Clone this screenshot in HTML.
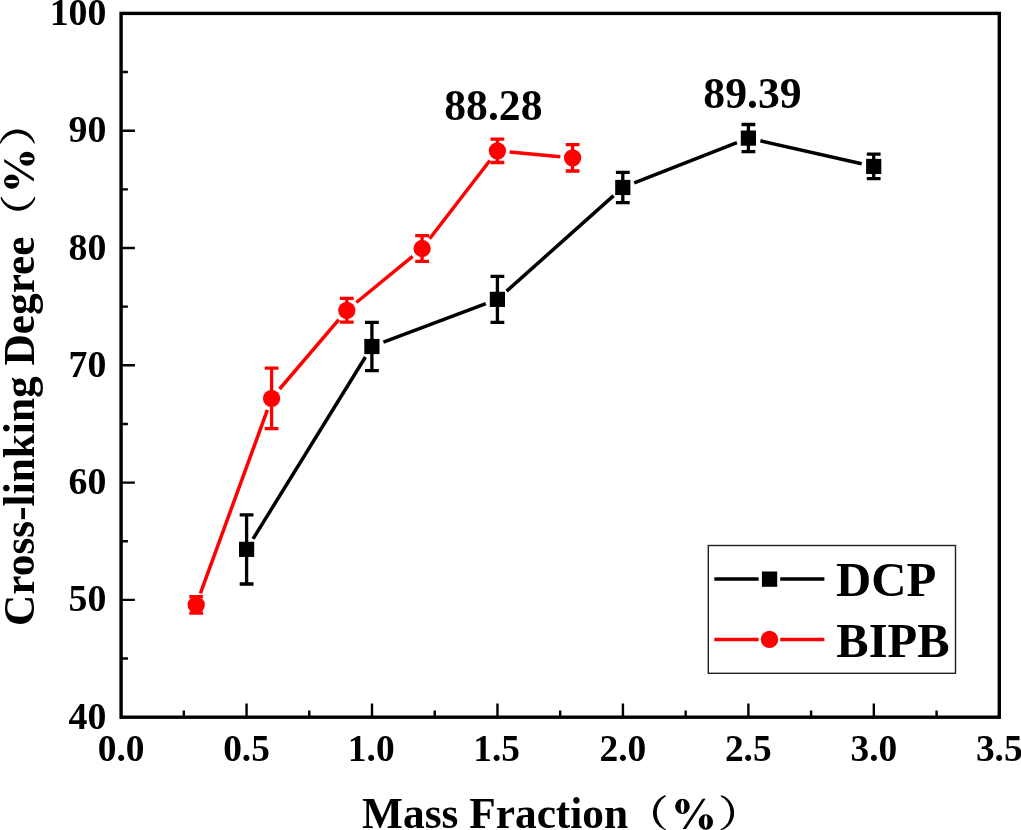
<!DOCTYPE html>
<html><head><meta charset="utf-8"><title>Cross-linking Degree vs Mass Fraction</title>
<style>
html,body{margin:0;padding:0;background:#fff;width:1021px;height:830px;overflow:hidden}
svg{display:block;will-change:transform}
text{font-family:"Liberation Serif",serif;font-weight:bold;fill:#000}
</style></head><body>
<svg width="1021" height="830" viewBox="0 0 1021 830">
<rect x="121.1" y="13.4" width="878.2" height="703.8" fill="none" stroke="#000" stroke-width="3.4"/>
<path d="M121.1 599.9H134.9M121.1 482.6H134.9M121.1 365.3H134.9M121.1 248H134.9M121.1 130.7H134.9M121.1 658.55H127.9M121.1 541.25H127.9M121.1 423.95H127.9M121.1 306.65H127.9M121.1 189.35H127.9M121.1 72.05H127.9M246.56 717.2V703.4M372.01 717.2V703.4M497.47 717.2V703.4M622.93 717.2V703.4M748.39 717.2V703.4M873.84 717.2V703.4M183.83 717.2V710.4M309.29 717.2V710.4M434.74 717.2V710.4M560.2 717.2V710.4M685.66 717.2V710.4M811.11 717.2V710.4M936.57 717.2V710.4" stroke="#000" stroke-width="2.4" fill="none"/>
<text x="68.54" y="728.70" font-size="37.8">40</text>
<text x="68.54" y="611.40" font-size="37.8">50</text>
<text x="68.54" y="494.10" font-size="37.8">60</text>
<text x="68.54" y="376.80" font-size="37.8">70</text>
<text x="68.54" y="259.50" font-size="37.8">80</text>
<text x="68.54" y="142.20" font-size="37.8">90</text>
<text x="49.64" y="24.90" font-size="37.8">100</text>
<text transform="translate(97.71 761.4) scale(0.990 1)" font-size="37.8">0.0</text>
<text transform="translate(223.14 761.4) scale(0.990 1)" font-size="37.8">0.5</text>
<text transform="translate(347.84 761.4) scale(0.990 1)" font-size="37.8">1.0</text>
<text transform="translate(473.27 761.4) scale(0.990 1)" font-size="37.8">1.5</text>
<text transform="translate(599.47 761.4) scale(0.990 1)" font-size="37.8">2.0</text>
<text transform="translate(724.90 761.4) scale(0.990 1)" font-size="37.8">2.5</text>
<text transform="translate(850.46 761.4) scale(0.990 1)" font-size="37.8">3.0</text>
<text transform="translate(975.89 761.4) scale(0.990 1)" font-size="37.8">3.5</text>
<text transform="translate(362.06 828.10) scale(0.9765 1)" font-size="44.4">Mass Fraction</text>
<path transform="translate(653.00 812.70) rotate(0)" d="M12.00 -17.40A18.61 18.61 0 0 0 12.00 17.40L13.30 16.80A19.60 19.60 0 0 1 13.30 -16.80Z"/>
<path fill-rule="evenodd" transform="translate(675.1 798.6)" d="M0.00 7.75A7.35 7.70 0 1 0 14.70 7.75A7.35 7.70 0 1 0 0.00 7.75ZM5.60 7.90A1.80 6.40 0 1 0 9.20 7.90A1.80 6.40 0 1 0 5.60 7.90ZM23.55 23.40A7.20 7.70 0 1 0 37.95 23.40A7.20 7.70 0 1 0 23.55 23.40ZM29.00 23.00A1.70 6.35 0 1 0 32.40 23.00A1.70 6.35 0 1 0 29.00 23.00ZM27.4 0.2L30.5 0.2L10.9 30.3L7.5 30.3Z"/>
<path transform="translate(734.10 812.70) scale(-1 1)" d="M12.60 -17.40A18.31 18.31 0 0 0 12.60 17.40L13.80 16.80A18.94 18.94 0 0 1 13.80 -16.80Z"/>
<text transform="translate(34.00 625.92) rotate(-90) scale(0.9759 1)" font-size="44.4">Cross-linking Degree</text>
<path transform="translate(18.00 210.70) rotate(-90)" d="M12.60 -17.40A18.31 18.31 0 0 0 12.60 17.40L14.20 16.80A18.77 18.77 0 0 1 14.20 -16.80Z"/>
<path fill-rule="evenodd" transform="translate(4.0 188.8) rotate(-90) scale(0.979 0.987)" d="M0.00 7.75A7.35 7.70 0 1 0 14.70 7.75A7.35 7.70 0 1 0 0.00 7.75ZM5.60 7.90A1.80 6.40 0 1 0 9.20 7.90A1.80 6.40 0 1 0 5.60 7.90ZM23.55 23.40A7.20 7.70 0 1 0 37.95 23.40A7.20 7.70 0 1 0 23.55 23.40ZM29.00 23.00A1.70 6.35 0 1 0 32.40 23.00A1.70 6.35 0 1 0 29.00 23.00ZM27.4 0.2L30.5 0.2L10.9 30.3L7.5 30.3Z"/>
<path transform="translate(17.35 129.40) rotate(90)" d="M13.10 -17.40A18.11 18.11 0 0 0 13.10 17.40L14.70 16.80A18.40 18.40 0 0 1 14.70 -16.80Z"/>
<text transform="translate(444.25 119.85) scale(0.9747 1)" font-size="44.8">88.28</text>
<text transform="translate(703.35 108.20) scale(0.9755 1)" font-size="44.8">89.39</text>
<line x1="253.06" y1="538.89" x2="365.44" y2="356.96" stroke="#000" stroke-width="3.5"/>
<line x1="383.41" y1="342.17" x2="485.89" y2="303.68" stroke="#000" stroke-width="3.5"/>
<line x1="506.58" y1="291.16" x2="613.62" y2="195.64" stroke="#000" stroke-width="3.5"/>
<line x1="634.25" y1="182.95" x2="736.95" y2="142.6" stroke="#000" stroke-width="3.5"/>
<line x1="760.4" y1="140.81" x2="861.7" y2="163.74" stroke="#000" stroke-width="3.5"/>
<line x1="200.42" y1="593.35" x2="267.38" y2="409.9" stroke="#f00" stroke-width="3.5"/>
<line x1="279.59" y1="389" x2="338.81" y2="319.65" stroke="#f00" stroke-width="3.5"/>
<line x1="356.31" y1="302.5" x2="412.59" y2="256.3" stroke="#f00" stroke-width="3.5"/>
<line x1="429.61" y1="238.76" x2="489.89" y2="160.54" stroke="#f00" stroke-width="3.5"/>
<line x1="509.65" y1="151.95" x2="560.35" y2="156.7" stroke="#f00" stroke-width="3.5"/>
<path d="M246.6 514.9V584M239.7 514.9H253.5M239.7 584H253.5" stroke="#000" stroke-width="3.3" fill="none"/>
<path d="M371.9 322.4V370.6M365 322.4H378.8M365 370.6H378.8" stroke="#000" stroke-width="3.3" fill="none"/>
<path d="M497.4 276.4V322.3M490.5 276.4H504.3M490.5 322.3H504.3" stroke="#000" stroke-width="3.3" fill="none"/>
<path d="M622.8 172.3V202.6M615.9 172.3H629.7M615.9 202.6H629.7" stroke="#000" stroke-width="3.3" fill="none"/>
<path d="M748.4 124.5V151.7M741.5 124.5H755.3M741.5 151.7H755.3" stroke="#000" stroke-width="3.3" fill="none"/>
<path d="M873.7 154.2V178.7M866.8 154.2H880.6M866.8 178.7H880.6" stroke="#000" stroke-width="3.3" fill="none"/>
<path d="M196.2 596.7V613.1M189.3 596.7H203.1M189.3 613.1H203.1" stroke="#f00" stroke-width="3.3" fill="none"/>
<path d="M271.6 368.1V428.6M264.7 368.1H278.5M264.7 428.6H278.5" stroke="#f00" stroke-width="3.3" fill="none"/>
<path d="M346.8 298.4V322.2M339.9 298.4H353.7M339.9 322.2H353.7" stroke="#f00" stroke-width="3.3" fill="none"/>
<path d="M422.1 235.6V261.4M415.2 235.6H429M415.2 261.4H429" stroke="#f00" stroke-width="3.3" fill="none"/>
<path d="M497.4 139.1V162.5M490.5 139.1H504.3M490.5 162.5H504.3" stroke="#f00" stroke-width="3.3" fill="none"/>
<path d="M572.6 144.7V171M565.7 144.7H579.5M565.7 171H579.5" stroke="#f00" stroke-width="3.3" fill="none"/>
<rect x="239" y="541.75" width="15.2" height="15.2" fill="#000"/>
<rect x="364.3" y="338.9" width="15.2" height="15.2" fill="#000"/>
<rect x="489.8" y="291.75" width="15.2" height="15.2" fill="#000"/>
<rect x="615.2" y="179.85" width="15.2" height="15.2" fill="#000"/>
<rect x="740.8" y="130.5" width="15.2" height="15.2" fill="#000"/>
<rect x="866.1" y="158.85" width="15.2" height="15.2" fill="#000"/>
<circle cx="196.2" cy="604.9" r="8.65" fill="#f00"/>
<circle cx="271.6" cy="398.35" r="8.65" fill="#f00"/>
<circle cx="346.8" cy="310.3" r="8.65" fill="#f00"/>
<circle cx="422.1" cy="248.5" r="8.65" fill="#f00"/>
<circle cx="497.4" cy="150.8" r="8.65" fill="#f00"/>
<circle cx="572.6" cy="157.85" r="8.65" fill="#f00"/>
<rect x="708.3" y="545.5" width="247.2" height="127.8" fill="#fff" stroke="#222" stroke-width="1.4"/>
<path d="M714.3 578.9H758.6M780.2 578.9H824.4" stroke="#000" stroke-width="3.5"/>
<rect x="761.9" y="571.5" width="15.3" height="15.3" fill="#000"/>
<path d="M714.3 639.5H758.6M780.2 639.5H824.4" stroke="#f00" stroke-width="3.4"/>
<circle cx="769.5" cy="639.4" r="8.7" fill="#f00"/>
<text transform="translate(836.04 595.90) scale(0.9934 1)" font-size="49.1">DCP</text>
<text transform="translate(836.29 656.50) scale(0.9883 1)" font-size="49.1">BIPB</text>
</svg>
</body></html>
